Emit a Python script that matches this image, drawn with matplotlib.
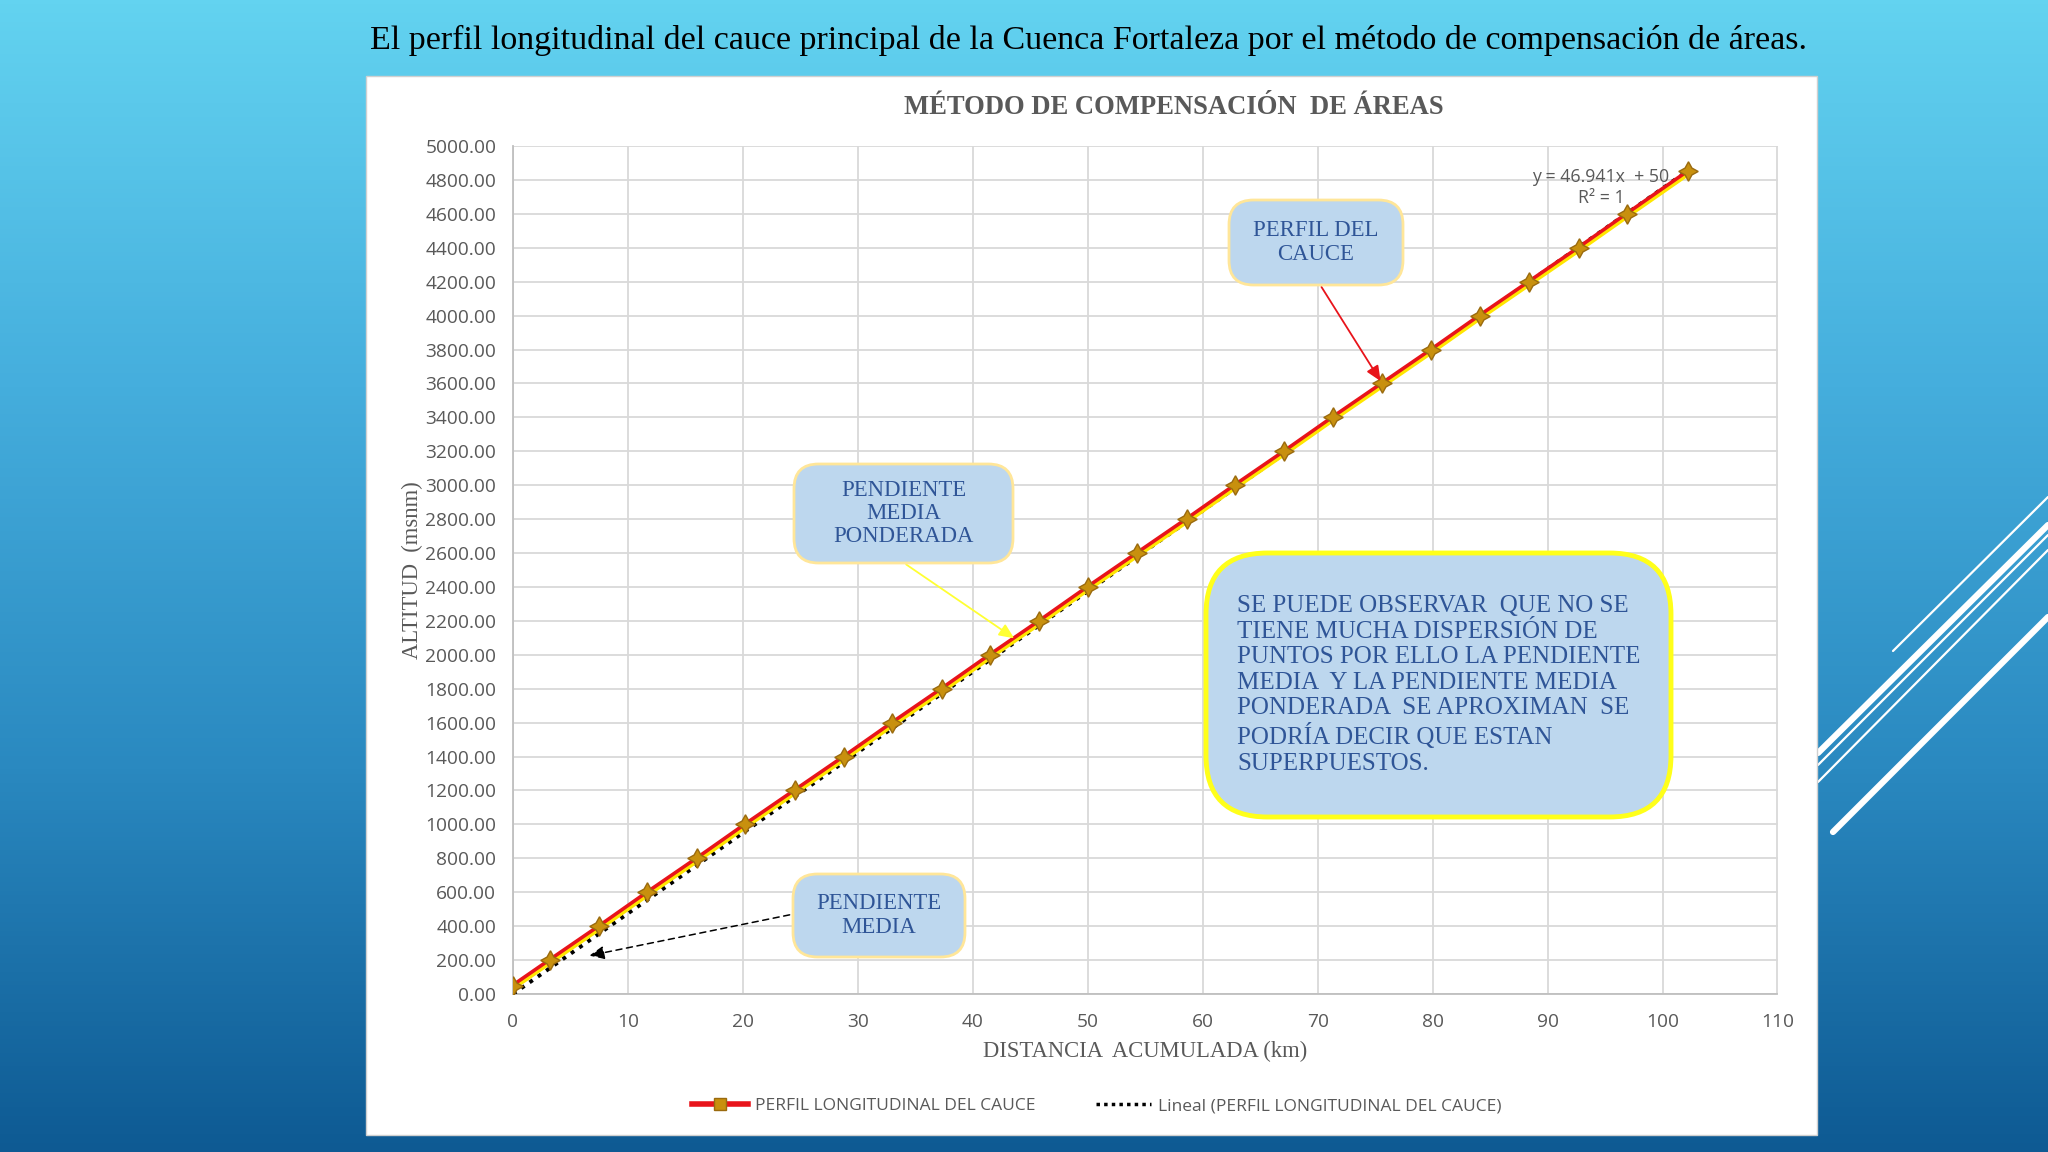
import numpy as np
import matplotlib
matplotlib.use("Agg")
import matplotlib.pyplot as plt
from matplotlib.patches import FancyBboxPatch, Rectangle
from matplotlib.lines import Line2D
from matplotlib import transforms
from matplotlib.colors import LinearSegmentedColormap

# ---- data ----
distance_km = [0.0, 3.2, 7.5, 11.7, 16.0, 20.2, 24.5, 28.8, 33.0, 37.3, 41.5, 45.8,
               50.0, 54.3, 58.6, 62.8, 67.1, 71.3, 75.6, 79.9, 84.1, 88.4, 92.7, 96.9, 102.2]
altitude_m = [50, 200, 400, 600, 800, 1000, 1200, 1400, 1600, 1800, 2000, 2200,
              2400, 2600, 2800, 3000, 3200, 3400, 3600, 3800, 4000, 4200, 4400, 4600, 4850]
trend_x = [0.0, 102.2]
trend_slope = 47.5
trend_intercept = 0.0
x_ticks = list(range(0, 111, 10))
y_ticks = list(range(0, 5001, 200))

W, H = 2048, 1152
fig = plt.figure(figsize=(W / 100, H / 100), dpi=100)

# ---- background gradient ----
bg = fig.add_axes([0, 0, 1, 1], zorder=-10)
bg.set_axis_off()
cmap = LinearSegmentedColormap.from_list("bg", ["#63D3F0", "#45AEDD", "#2A89C0", "#0E5A93"])
grad = np.linspace(0, 1, 256).reshape(-1, 1)
bg.imshow(grad, aspect="auto", cmap=cmap, extent=[0, 1, 0, 1], origin="upper")
bg.set_xlim(0, 1)
bg.set_ylim(0, 1)

def fx(px):
    return px / W

def fy(py):
    return 1 - py / H

# decorative lines on right
deco = [((1893, 651), (2048, 497), 1.6),
        ((1818, 753), (2048, 525), 4.5),
        ((1818, 765), (2048, 535), 1.6),
        ((1818, 782), (2048, 550), 1.6),
        ((1833, 832), (2048, 617), 4.5)]
for (x0, y0), (x1, y1), lw in deco:
    fig.add_artist(Line2D([fx(x0), fx(x1)], [fy(y0), fy(y1)], color="white",
                          lw=lw, solid_capstyle="round", zorder=-5))

# white panel
fig.add_artist(Rectangle((fx(366), fy(1135)), fx(1817) - fx(366), fy(76) - fy(1135),
                         facecolor="white", edgecolor="#D0D0D0", lw=1, zorder=-4))

# slide title
fig.text(fx(1088), fy(40),
         "El perfil longitudinal del cauce principal de la Cuenca Fortaleza por el método de compensación de áreas.",
         ha="center", va="center", fontsize=24.5, family="Liberation Serif", color="black")

# ---- chart ----
ax = fig.add_axes([fx(513), fy(994), fx(1777.5) - fx(513), fy(146) - fy(994)])
ax.set_xlim(0, 110)
ax.set_ylim(0, 5000)
ax.set_xticks(x_ticks)
ax.set_yticks(y_ticks)
ax.set_yticklabels([f"{v:.2f}" for v in y_ticks])
ax.grid(True, color="#D9D9D9", lw=1.3)
ax.set_axisbelow(True)
for s in ["top", "right"]:
    ax.spines[s].set_visible(False)
for s in ["left", "bottom"]:
    ax.spines[s].set_color("#BFBFBF")
    ax.spines[s].set_linewidth(1.3)
ax.tick_params(length=0, labelsize=13.8, labelcolor="#595959")
ax.tick_params(axis="y", pad=12)
ax.tick_params(axis="x", pad=14)
for lab in ax.get_xticklabels() + ax.get_yticklabels():
    lab.set_family("Open Sans")

ax.set_xlabel("DISTANCIA  ACUMULADA (km)", family="Liberation Serif", fontsize=16.3,
              color="#595959", labelpad=7)
ax.set_ylabel("ALTITUD  (msnm)", family="Liberation Serif", fontsize=16.3,
              color="#595959", labelpad=2)
ax.text(0.5227, 1.0 + (146 - 107) / (994 - 146), "MÉTODO DE COMPENSACIÓN  DE ÁREAS",
        transform=ax.transAxes, ha="center", va="center", family="Liberation Serif",
        fontsize=19.2, fontweight="bold", color="#595959")

# trend line
tx = np.array(trend_x)
ax.plot(tx, trend_slope * tx + trend_intercept, color="black", ls=(0, (1, 1.6)), lw=2.8,
        zorder=3)

# profile: red line with yellow offset line
ax.plot(distance_km, altitude_m, color="#E8141B", lw=3.2, zorder=4)
off = transforms.offset_copy(ax.transData, fig=fig, x=1.5, y=-2.5, units="dots")
ax.plot(distance_km, altitude_m, color="#FFE600", lw=2.2, zorder=5, transform=off)
ax.plot(distance_km, altitude_m, ls="none", marker=(4, 1, 0), ms=14,
        mfc="#C8900E", mec="#9A6A0E", mew=1, zorder=6)

ax.text(100.6, 4820, "y = 46.941x  + 50", ha="right", va="center", fontsize=12.8,
        color="#595959", family="Open Sans", zorder=7)
ax.text(96.7, 4692, "R² = 1", ha="right", va="center", fontsize=12.8,
        color="#595959", family="Open Sans", zorder=7)

# callouts
def callout(text, x0, y0, x1, y1, fs, edge="#FFE699", lw=2.0, rad=0.12, align="center",
            tx=None, ls=1.13):
    bx = FancyBboxPatch((fx(x0), fy(y1)), fx(x1) - fx(x0), fy(y0) - fy(y1),
                        boxstyle=f"round,pad=0,rounding_size={rad}",
                        mutation_aspect=W / H,
                        facecolor="#BDD7EE", edgecolor=edge, lw=lw, transform=fig.transFigure,
                        zorder=10)
    fig.add_artist(bx)
    if align == "center":
        fig.text(fx((x0 + x1) / 2), fy((y0 + y1) / 2), text, ha="center", va="center",
                 fontsize=fs, family="Liberation Serif", color="#2F5597", zorder=11,
                 linespacing=ls)
    else:
        fig.text(fx(tx), fy((y0 + y1) / 2), text, ha="left", va="center",
                 fontsize=fs, family="Liberation Serif", color="#2F5597", zorder=11,
                 linespacing=ls)

callout("PERFIL DEL\nCAUCE", 1229, 200, 1403, 285, 16.4, rad=0.012)
callout("PENDIENTE\nMEDIA\nPONDERADA", 794, 464, 1013, 563, 16.4, rad=0.012)
callout("PENDIENTE\nMEDIA", 793, 874, 965, 957, 16.4, rad=0.012)
callout("SE PUEDE OBSERVAR  QUE NO SE\nTIENE MUCHA DISPERSIÓN DE\nPUNTOS POR ELLO LA PENDIENTE\n"
        "MEDIA  Y LA PENDIENTE MEDIA\nPONDERADA  SE APROXIMAN  SE\nPODRÍA DECIR QUE ESTAN\nSUPERPUESTOS.",
        1206, 553, 1671, 817, 18, edge="#FFFF1A", lw=3.5, rad=0.03, align="left", tx=1237,
        ls=1.2)

# arrows
ax.annotate("", xy=(75.6, 3600), xytext=(70.2, 4183),
            arrowprops=dict(arrowstyle="-|>,head_length=0.9,head_width=0.4", color="#E8141B",
                            lw=1.3), zorder=9)
ax.annotate("", xy=(43.8, 2088), xytext=(34.0, 2542),
            arrowprops=dict(arrowstyle="-|>,head_length=0.9,head_width=0.4", color="#FFFF33",
                            lw=1.3), zorder=9)
ax.annotate("", xy=(6.4, 223), xytext=(24.3, 470),
            arrowprops=dict(arrowstyle="-|>,head_length=0.9,head_width=0.4", color="black",
                            lw=1.1, ls=(0, (4, 3))), zorder=9)

# legend
h1 = Line2D([], [], color="#E8141B", lw=4, marker="s", ms=9, mfc="#C8900E", mec="#9A6A0E")
h2 = Line2D([], [], color="black", lw=2.5, ls=(0, (1, 1.2)))
leg = fig.legend([h1, h2], ["PERFIL LONGITUDINAL DEL CAUCE", "Lineal (PERFIL LONGITUDINAL DEL CAUCE)"],
                 loc="center", bbox_to_anchor=(fx(1097), fy(1106)), ncol=2, frameon=False,
                 fontsize=12.5, handlelength=3.2, columnspacing=3.5, handletextpad=0.4)
for t in leg.get_texts():
    t.set_color("#595959")
    t.set_family("Open Sans")

fig.savefig("out.png", dpi=100)
